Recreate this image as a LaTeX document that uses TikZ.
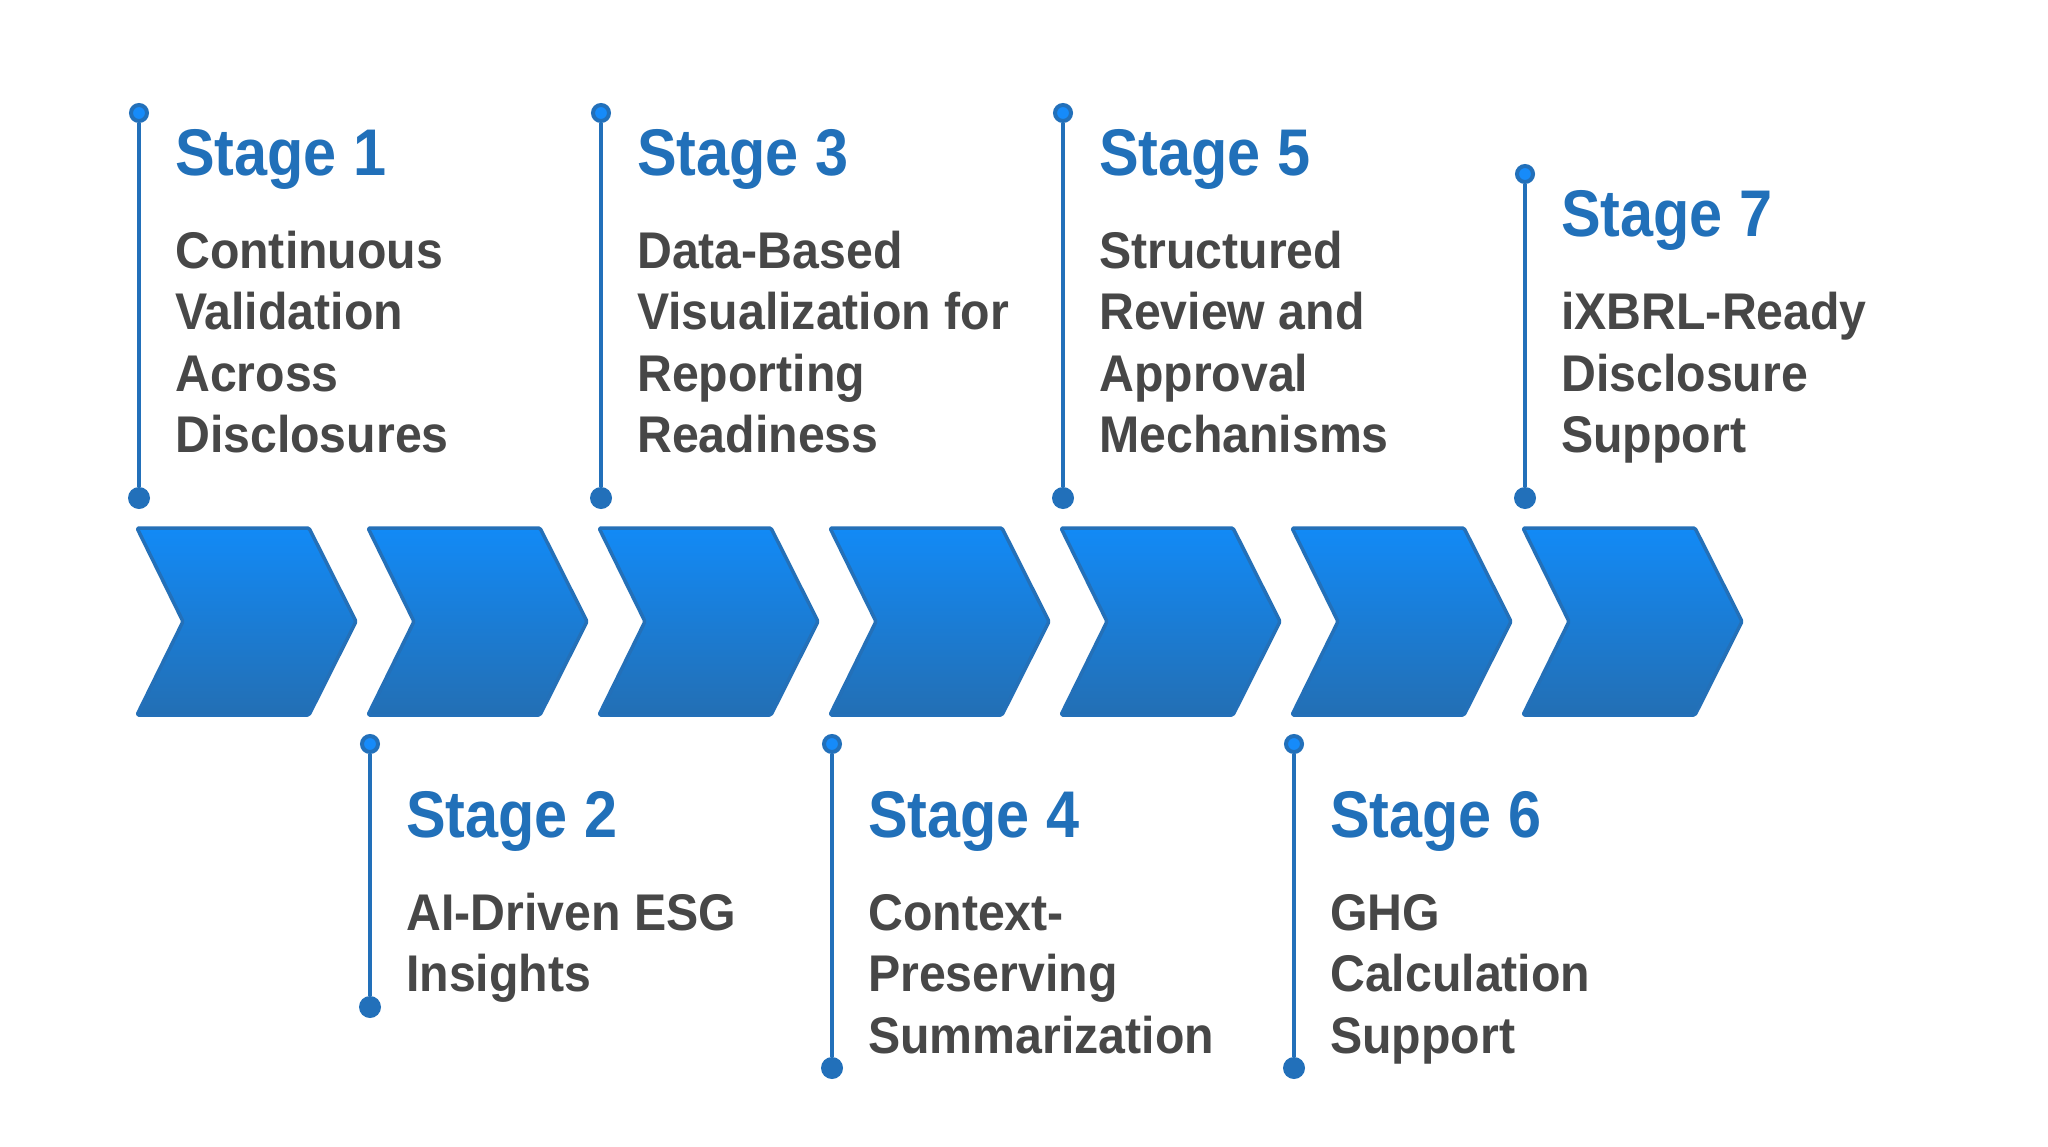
\documentclass[tikz,border=0pt]{standalone}
\usepackage{fontspec}
\newfontfamily\stagefont{Liberation Sans}[FakeStretch=0.9]
\newfontfamily\bodyfont{Liberation Sans}[FakeStretch=0.935]
\definecolor{cTop}{RGB}{18,138,246}
\definecolor{cBot}{RGB}{35,111,180}
\definecolor{cEdge}{RGB}{36,112,184}
\definecolor{lineC}{RGB}{34,112,186}
\definecolor{dotIn}{RGB}{22,139,250}
\definecolor{titleC}{RGB}{33,112,185}
\definecolor{textC}{RGB}{71,71,71}
\begin{document}
\begin{tikzpicture}[x=1pt,y=-1pt,
  chev/.style={top color=cTop,bottom color=cBot,draw=cEdge,line width=3.5pt,line join=round,rounded corners=1.5pt},
  stem/.style={draw=lineC,line width=4.5pt},
  topdot/.style={circle,fill=dotIn,draw=lineC,line width=4pt,minimum size=16pt,inner sep=0pt},
  botdot/.style={circle,fill=lineC,minimum size=22pt,inner sep=0pt},
  stitle/.style={font=\stagefont\bfseries\fontsize{66}{79}\selectfont,text=titleC,inner sep=0pt,anchor=base west},
  sbody/.style={font=\bodyfont\bfseries\fontsize{51.6}{61.5}\selectfont,text=textC,inner sep=0pt,anchor=base west,align=left}
]
\useasboundingbox (0,0) rectangle (2048,1146);
\fill[white] (0,0) rectangle (2048,1146);

% chevrons
\foreach \i in {0,...,6}{
  \pgfmathsetmacro{\L}{137+231*\i}
  \draw[chev] (\L,528) -- ({\L+172},528) -- ({\L+219},621.5) -- ({\L+172},715) -- (\L,715) -- ({\L+46},621.5) -- cycle;
}

% Stage 1
\node[topdot] (t1) at (139,113) {};
\node[botdot] (b1) at (139,498) {};
\draw[stem] (t1) -- (b1);
\node[stitle] (h1) at (175,175) {Stage 1};
\node[sbody] (d1) at (175,452.5) {Continuous\\Validation\\Across\\Disclosures};

% Stage 3
\node[topdot] (t3) at (601,113) {};
\node[botdot] (b3) at (601,498) {};
\draw[stem] (t3) -- (b3);
\node[stitle] (h3) at (637,175) {Stage 3};
\node[sbody] (d3) at (637,452.5) {Data-Based\\Visualization for\\Reporting\\Readiness};

% Stage 5
\node[topdot] (t5) at (1063,113) {};
\node[botdot] (b5) at (1063,498) {};
\draw[stem] (t5) -- (b5);
\node[stitle] (h5) at (1099,175) {Stage 5};
\node[sbody] (d5) at (1099,452.5) {Structured\\Review and\\Approval\\Mechanisms};

% Stage 7
\node[topdot] (t7) at (1525,174) {};
\node[botdot] (b7) at (1525,498) {};
\draw[stem] (t7) -- (b7);
\node[stitle] (h7) at (1561,236) {Stage 7};
\node[sbody] (d7) at (1561,452.5) {iXBRL-Ready\\Disclosure\\Support};

% Stage 2
\node[topdot] (t2) at (370,744) {};
\node[botdot] (b2) at (370,1007) {};
\draw[stem] (t2) -- (b2);
\node[stitle] (h2) at (406,837) {Stage 2};
\node[sbody] (d2) at (406,991.5) {AI-Driven ESG\\Insights};

% Stage 4
\node[topdot] (t4) at (832,744) {};
\node[botdot] (b4) at (832,1068) {};
\draw[stem] (t4) -- (b4);
\node[stitle] (h4) at (868,837) {Stage 4};
\node[sbody] (d4) at (868,1053) {Context-\\Preserving\\Summarization};

% Stage 6
\node[topdot] (t6) at (1294,744) {};
\node[botdot] (b6) at (1294,1068) {};
\draw[stem] (t6) -- (b6);
\node[stitle] (h6) at (1330,837) {Stage 6};
\node[sbody] (d6) at (1330,1053) {GHG\\Calculation\\Support};
\end{tikzpicture}
\end{document}
